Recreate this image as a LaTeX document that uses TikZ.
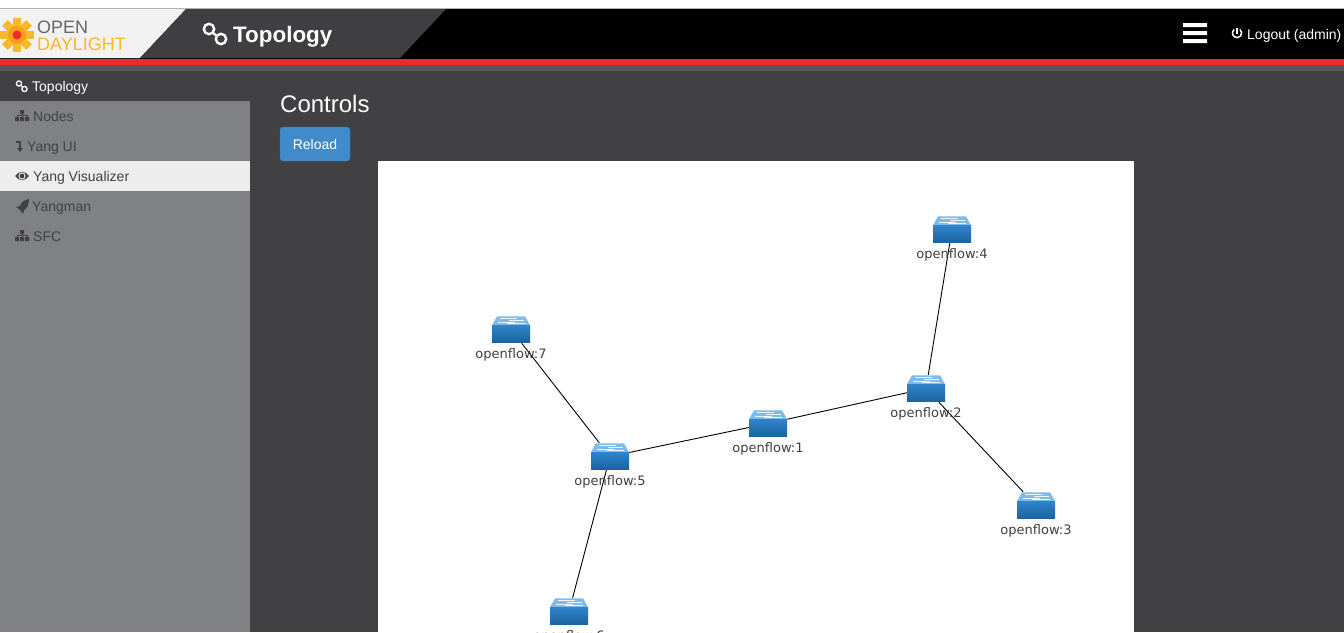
\documentclass[tikz,border=0pt]{standalone}
\usepackage{fontspec}
\setmainfont{Liberation Sans}
\newfontfamily\labelfont{DejaVu Sans}
\definecolor{bodydark}{HTML}{414143}
\definecolor{headdark}{HTML}{3F3F41}
\definecolor{sidegray}{HTML}{808184}
\definecolor{stripgray}{HTML}{58585A}
\definecolor{redbar}{HTML}{F12B24}
\definecolor{logobg}{HTML}{F2F2F2}
\definecolor{btn}{HTML}{428BCA}
\definecolor{odyellow}{HTML}{FDB827}
\definecolor{odorange}{HTML}{F9A01B}
\definecolor{swtop}{HTML}{7DBBEA}
\definecolor{swa}{HTML}{2F84CC}
\definecolor{swb}{HTML}{3F9AE0}
\definecolor{swc}{HTML}{1B639F}
\tikzset{
  x=1pt,y=-1pt,
  swnode/.style={minimum width=38pt,minimum height=27pt,inner sep=0pt},
  swlabel/.style={font=\labelfont\fontsize{13}{15}\selectfont,text=black!75,inner sep=0pt},
  link/.style={black,line width=0.9pt},
  side/.style={anchor=base west,inner sep=0pt,font=\fontsize{14}{16}\selectfont},
  sideicon/.style={fill=bodydark,draw=none},
  switchicon/.pic={
    \fill[swtop] (-14,-13) -- (14,-13) -- (19,-4) -- (-19,-4) -- cycle;
    \shade[top color=swa,middle color=swb,bottom color=swc] (-19,-4) rectangle (19,13);
    \draw[white!85!swtop,line width=0.8pt] (-11,-10.5) -- (6,-10.5) (-2,-8.5) -- (13,-8.5) (-13,-7) -- (4,-7) (-4,-5.5) -- (14,-5.5);
  },
  sitemap/.pic={
    \fill[sideicon] (-2,-6) rectangle (2,-2) (-7,1) rectangle (-3,5) (-2,1) rectangle (2,5) (3,1) rectangle (7,5);
    \draw[bodydark,line width=0.9pt] (0,-2) -- (0,1) (-5,1) -- (-5,-0.5) -- (5,-0.5) -- (5,1);
  }
}
\begin{document}
\begin{tikzpicture}
\useasboundingbox (0,0) rectangle (1344,632);
\clip (0,0) rectangle (1344,632);
% page frame
\fill[white] (0,0) rectangle (1344,8);
\fill[black!30] (0,8) rectangle (1344,9);
\fill[black] (0,9) rectangle (1344,59);
\fill[logobg] (0,9) -- (186,9) -- (140,58) -- (0,58) -- cycle;
\fill[headdark] (186,9) -- (446,9) -- (400,58) -- (140,58) -- cycle;
\fill[redbar] (0,59) rectangle (1344,65);
\fill[stripgray] (0,65) rectangle (1344,71);
\fill[bodydark] (0,71) rectangle (1344,632);
\fill[sidegray] (0,101) rectangle (250,632);
\fill[black!7] (0,161) rectangle (250,191);
\fill[white] (378,161) rectangle (1134,632);
% logo
\foreach \a in {0,45,...,315}
  \fill[odyellow,rotate around={\a:(17,35)}] (13,18) rectangle (21,32);
\fill[odorange] (17,35) circle (9);
\fill[redbar] (17,35) circle (4.5);
\node[anchor=base west,inner sep=0pt,text=black!60,font=\fontsize{18}{20}\selectfont] (logoa) at (37,33) {OPEN};
\node[anchor=base west,inner sep=0pt,text=odyellow,font=\fontsize{18}{20}\selectfont] (logob) at (37,50.5) {DAYLIGHT};
% header
\draw[white,line width=2.4pt] (209,29) circle (5.2) (221,39) circle (5.2);
\draw[white,line width=2.4pt] (213,33) -- (217,36);
\node[anchor=base west,inner sep=0pt,text=white,font=\bfseries\fontsize{22.4}{26}\selectfont] (title) at (233,42.5) {Topology};
\fill[white] (1183,23) rectangle (1207,27) (1183,31) rectangle (1207,35) (1183,39) rectangle (1207,43);
\draw[white,line width=1.5pt] (1240,29.5) arc[start angle=-50,end angle=230,radius=4.6];
\draw[white,line width=1.5pt] (1237,27.5) -- (1237,33.5);
\node[side,text=white] (logout) at (1247,39) {Logout (admin)};
% sidebar
\draw[white,line width=1.3pt] (19,83.5) circle (2.6) (24.5,89) circle (2.6);
\draw[white,line width=1.3pt] (21,85.5) -- (22.5,87);
\node[side,text=white] (navtopo) at (32,91) {Topology};
\pic at (22,116) {sitemap};
\node[side,text=bodydark] (navnodes) at (33,121) {Nodes};
\draw[bodydark,line width=1.6pt] (16,142) -- (20,142) -- (20,150);
\fill[bodydark] (17,148) -- (23,148) -- (20,152) -- cycle;
\node[side,text=bodydark] (navyang) at (27,151) {Yang UI};
\fill[bodydark] (15,176) .. controls (19,170.5) and (25,170.5) .. (29,176) .. controls (25,181.5) and (19,181.5) .. (15,176) -- cycle;
\fill[black!7] (22,176) circle (3.6);
\fill[bodydark] (22,176) circle (2.4);
\node[side,text=bodydark] (navvis) at (33,181) {Yang Visualizer};
\fill[bodydark] (29,199) .. controls (24,199.5) and (21,203) .. (20,206) -- (16,207) -- (19,209) -- (21,211) -- (23,214) -- (24,210) .. controls (27,209) and (29,205) .. (29,199) -- cycle;
\node[side,text=bodydark] (navman) at (32,211) {Yangman};
\pic at (22,236) {sitemap};
\node[side,text=bodydark] (navsfc) at (33,241) {SFC};
% controls
\node[anchor=base west,inner sep=0pt,text=white,font=\fontsize{24}{28}\selectfont] (controls) at (280,112) {Controls};
\node[fill=btn,draw=btn!85!black,rounded corners=3pt,minimum width=70pt,minimum height=34pt,inner sep=0pt,text=white,font=\fontsize{14}{16}\selectfont] (reload) at (315,144) {Reload};
% topology
\foreach \n/\x/\y in {1/768/424,2/926/389,3/1036/506,4/952/230,5/610/457,6/569/612,7/511/330}
  \node[swnode] (s\n) at (\x,\y-0.5) {};
\draw[link] (s7) -- (s5);
\draw[link] (s5) -- (s1);
\draw[link] (s1) -- (s2);
\draw[link] (s2) -- (s4);
\draw[link] (s2) -- (s3);
\draw[link] (s5) -- (s6);
\foreach \n/\x/\y in {1/768/424,2/926/389,3/1036/506,4/952/230,5/610/457,6/569/612,7/511/330}{
  \pic at (\x,\y-0.7) {switchicon};
  \node[swlabel] (l\n) at (\x,\y+24.6) {openflow:\n};
}
\end{tikzpicture}
\end{document}
